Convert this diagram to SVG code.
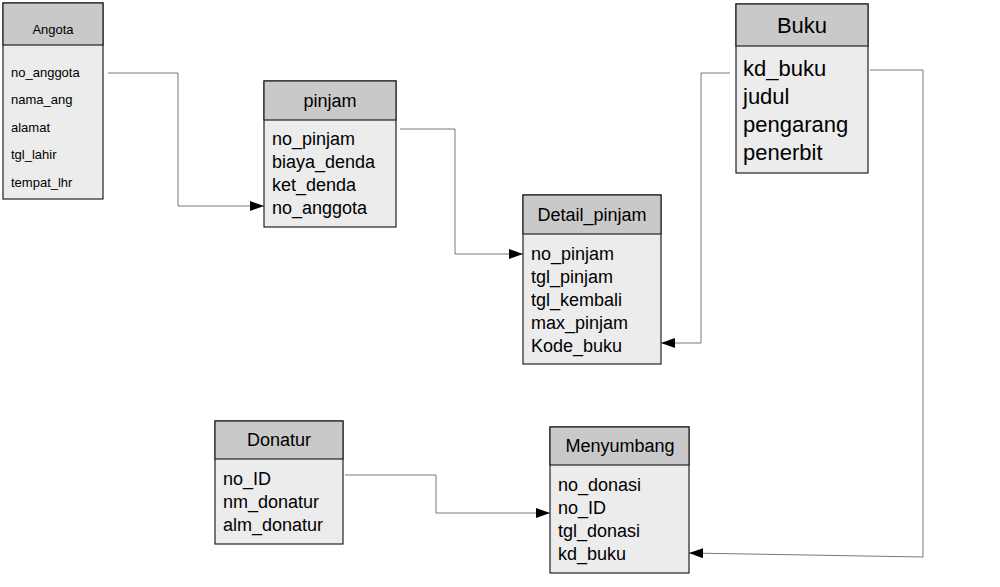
<svg xmlns="http://www.w3.org/2000/svg" width="1000" height="587" viewBox="0 0 1000 587">
<style>
.b{fill:#ececec;stroke:#222;stroke-width:1.2}
.h{fill:#c9c9c9;stroke:#222;stroke-width:1.2}
text{font-family:"Liberation Sans",Arial,sans-serif;fill:#000}
.s{font-size:13px}.m{font-size:18px}.l{font-size:22px}
.c{fill:none;stroke:#555;stroke-width:0.8}
</style>
<defs><marker id="a" markerWidth="14" markerHeight="10" refX="14" refY="5" orient="auto" markerUnits="userSpaceOnUse"><path d="M0,0L14,5L0,10z" fill="#000"/></marker></defs>
<rect width="1000" height="587" fill="#fff"/>
<g id="connectors">
<path class="c" d="M108,73H178V206H264" marker-end="url(#a)"/>
<path class="c" d="M400,129H455V254H523" marker-end="url(#a)"/>
<path class="c" d="M730,73H701V343H661" marker-end="url(#a)"/>
<path class="c" d="M870,70H923V557L689,553" marker-end="url(#a)"/>
<path class="c" d="M345,475H436V513H550" marker-end="url(#a)"/>
</g>
<g id="angota"><rect class="b" x="3" y="3" width="100" height="196"/><rect class="h" x="3" y="3" width="100" height="42"/>
<text class="s" x="53" y="34" text-anchor="middle">Angota</text>
<text class="s" x="11" y="77">no_anggota</text><text class="s" x="11" y="104">nama_ang</text><text class="s" x="11" y="132">alamat</text><text class="s" x="11" y="159">tgl_lahir</text><text class="s" x="11" y="187">tempat_lhr</text></g>
<g id="pinjam"><rect class="b" x="264" y="81" width="132" height="146"/><rect class="h" x="264" y="81" width="132" height="39"/>
<text class="m" x="330" y="107" text-anchor="middle">pinjam</text>
<text class="m" x="272" y="145">no_pinjam</text><text class="m" x="272" y="168">biaya_denda</text><text class="m" x="272" y="191">ket_denda</text><text class="m" x="272" y="214">no_anggota</text></g>
<g id="detail_pinjam"><rect class="b" x="523" y="195" width="138" height="169"/><rect class="h" x="523" y="195" width="138" height="39"/>
<text class="m" x="592" y="221" text-anchor="middle">Detail_pinjam</text>
<text class="m" x="531" y="260">no_pinjam</text><text class="m" x="531" y="283">tgl_pinjam</text><text class="m" x="531" y="306">tgl_kembali</text><text class="m" x="531" y="329">max_pinjam</text><text class="m" x="531" y="352">Kode_buku</text></g>
<g id="buku"><rect class="b" x="736" y="4" width="132" height="169"/><rect class="h" x="736" y="4" width="132" height="42"/>
<text class="l" x="802" y="33" text-anchor="middle">Buku</text>
<text class="l" x="743" y="76">kd_buku</text><text class="l" x="743" y="104">judul</text><text class="l" x="743" y="132">pengarang</text><text class="l" x="743" y="160">penerbit</text></g>
<g id="donatur"><rect class="b" x="215" y="421" width="128" height="123"/><rect class="h" x="215" y="421" width="128" height="38"/>
<text class="m" x="279" y="446" text-anchor="middle">Donatur</text>
<text class="m" x="223" y="485">no_ID</text><text class="m" x="223" y="508">nm_donatur</text><text class="m" x="223" y="531">alm_donatur</text></g>
<g id="menyumbang"><rect class="b" x="550" y="427" width="139" height="146"/><rect class="h" x="550" y="427" width="139" height="38"/>
<text class="m" x="620" y="452" text-anchor="middle">Menyumbang</text>
<text class="m" x="558" y="491">no_donasi</text><text class="m" x="558" y="514">no_ID</text><text class="m" x="558" y="537">tgl_donasi</text><text class="m" x="558" y="560">kd_buku</text></g>
</svg>
